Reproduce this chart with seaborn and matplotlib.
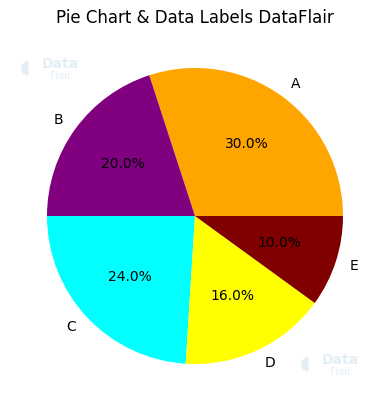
import matplotlib
matplotlib.use("Agg")
import matplotlib.pyplot as plt
import seaborn as sns

sns.reset_orig()
plt.rcParams['font.family'] = ['DejaVu Sans']

labels = ["A", "B", "C", "D", "E"]
values = [30, 20, 24, 16, 10]
colors = ["orange", "purple", "cyan", "yellow", "maroon"]

fig = plt.figure(figsize=(3.89, 4.11), dpi=100)
cx, cy, half = 195, 216, 185
ax = fig.add_axes([(cx - half)/389, (411 - cy - half)/411, 2*half/389, 2*half/411])
ax.pie(values, labels=labels, colors=colors, autopct="%1.1f%%")
ax.set_xlim(-1.25, 1.25)
ax.set_ylim(-1.25, 1.25)
fig.text(0.5, 1 - 18/411, "Pie Chart & Data Labels DataFlair", ha="center", va="center", fontsize=12)

# faint watermarks
wm = "#e3eff4"
for (x, y) in [(20, 67), (300, 363)]:
    fig.text(x/389, 1 - y/411, "\u25D6", color=wm, fontsize=14, va="center", ha="left")
    fig.text((x + 22)/389, 1 - (y - 3)/411, "Data", color=wm, fontsize=10, fontweight="bold", va="center", ha="left")
    fig.text((x + 30)/389, 1 - (y + 9)/411, "Flair", color=wm, fontsize=7, va="center", ha="left")

fig.savefig("out.png", dpi=100)
